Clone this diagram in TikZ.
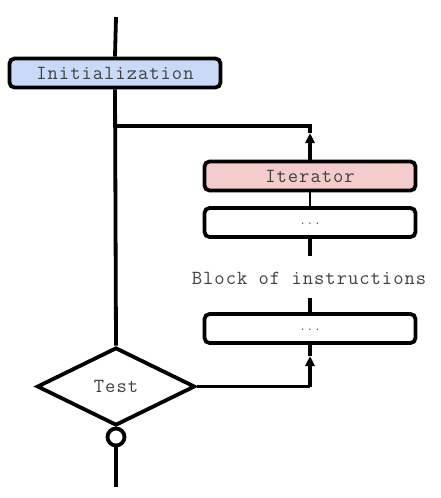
\documentclass[tikz,border=0pt]{standalone}
\usepackage{fontspec}
\newfontfamily\courfont[LetterSpace=5]{Latin Modern Mono}
\usetikzlibrary{shapes.geometric,arrows.meta}
\definecolor{initblue}{HTML}{C9DAF8}
\definecolor{iterpink}{HTML}{F4CCCC}
\definecolor{txtgray}{HTML}{404040}
\tikzset{
  txt/.style={font=\courfont\fontsize{20}{22}\selectfont, text=txtgray},
  box/.style={txt, draw=black, line width=3.8pt, rounded corners=5pt, minimum width=211pt, minimum height=29pt, inner sep=0pt},
  decision/.style={txt, draw=black, line width=3.8pt, diamond, minimum width=158pt, minimum height=78pt, inner sep=0pt},
  lbl/.style={txt, inner sep=0pt},
  wire/.style={line width=3.8pt},
  thinwire/.style={line width=1.2pt},
  arr/.style={-{Triangle[length=10pt,width=9pt]}}
}
\begin{document}
\begin{tikzpicture}[x=1pt,y=-1pt]
\useasboundingbox (0,0) rectangle (441,498);
\node[box, fill=initblue] (init) at (115,73) {Initialization};
\node[box, fill=iterpink] (iter) at (310,176) {Iterator};
\node[box, fill=white] (b1) at (310,222.5) {\raisebox{-3pt}{\fontsize{13}{13}\selectfont...}};
\node[box, fill=white] (b2) at (310,328.5) {\raisebox{-3pt}{\fontsize{13}{13}\selectfont...}};
\node[lbl] (blk) at (309,278) {Block of instructions};
\node[decision] (test) at (116,386.5) {Test};
\node[draw, line width=3.8pt, circle, minimum size=17pt, inner sep=0pt] (end) at (116,437) {};
\coordinate (top) at (116,17);
\coordinate (bot) at (116,487);
\coordinate (split) at (116,126);
\coordinate (corner) at (310,126);
\coordinate (amid) at (310,133);
\coordinate (b1end) at (310,256);
\coordinate (b2start) at (310,298);
\coordinate (tcorner) at (310,386.5);
\coordinate (amid2) at (310,356);

\draw[wire] (top) -- (init.north);
\draw[wire] (init.south) -- (test.north);
\draw[wire, arr] (iter.north) -- (amid);
\draw[wire] (amid) -- (corner) -- (split);
\draw[thinwire] (b1.north) -- (iter.south);
\draw[wire] (b1.south) -- (b1end);
\draw[wire] (b2start) -- (b2.north);
\draw[wire] (test.east) -- (tcorner);
\draw[wire, arr] (tcorner) -- (amid2);
\draw[wire] (amid2) -- (b2.south);
\draw[wire] (test.south) -- (end.north);
\draw[wire] (end.south) -- (bot);
\end{tikzpicture}
\end{document}
